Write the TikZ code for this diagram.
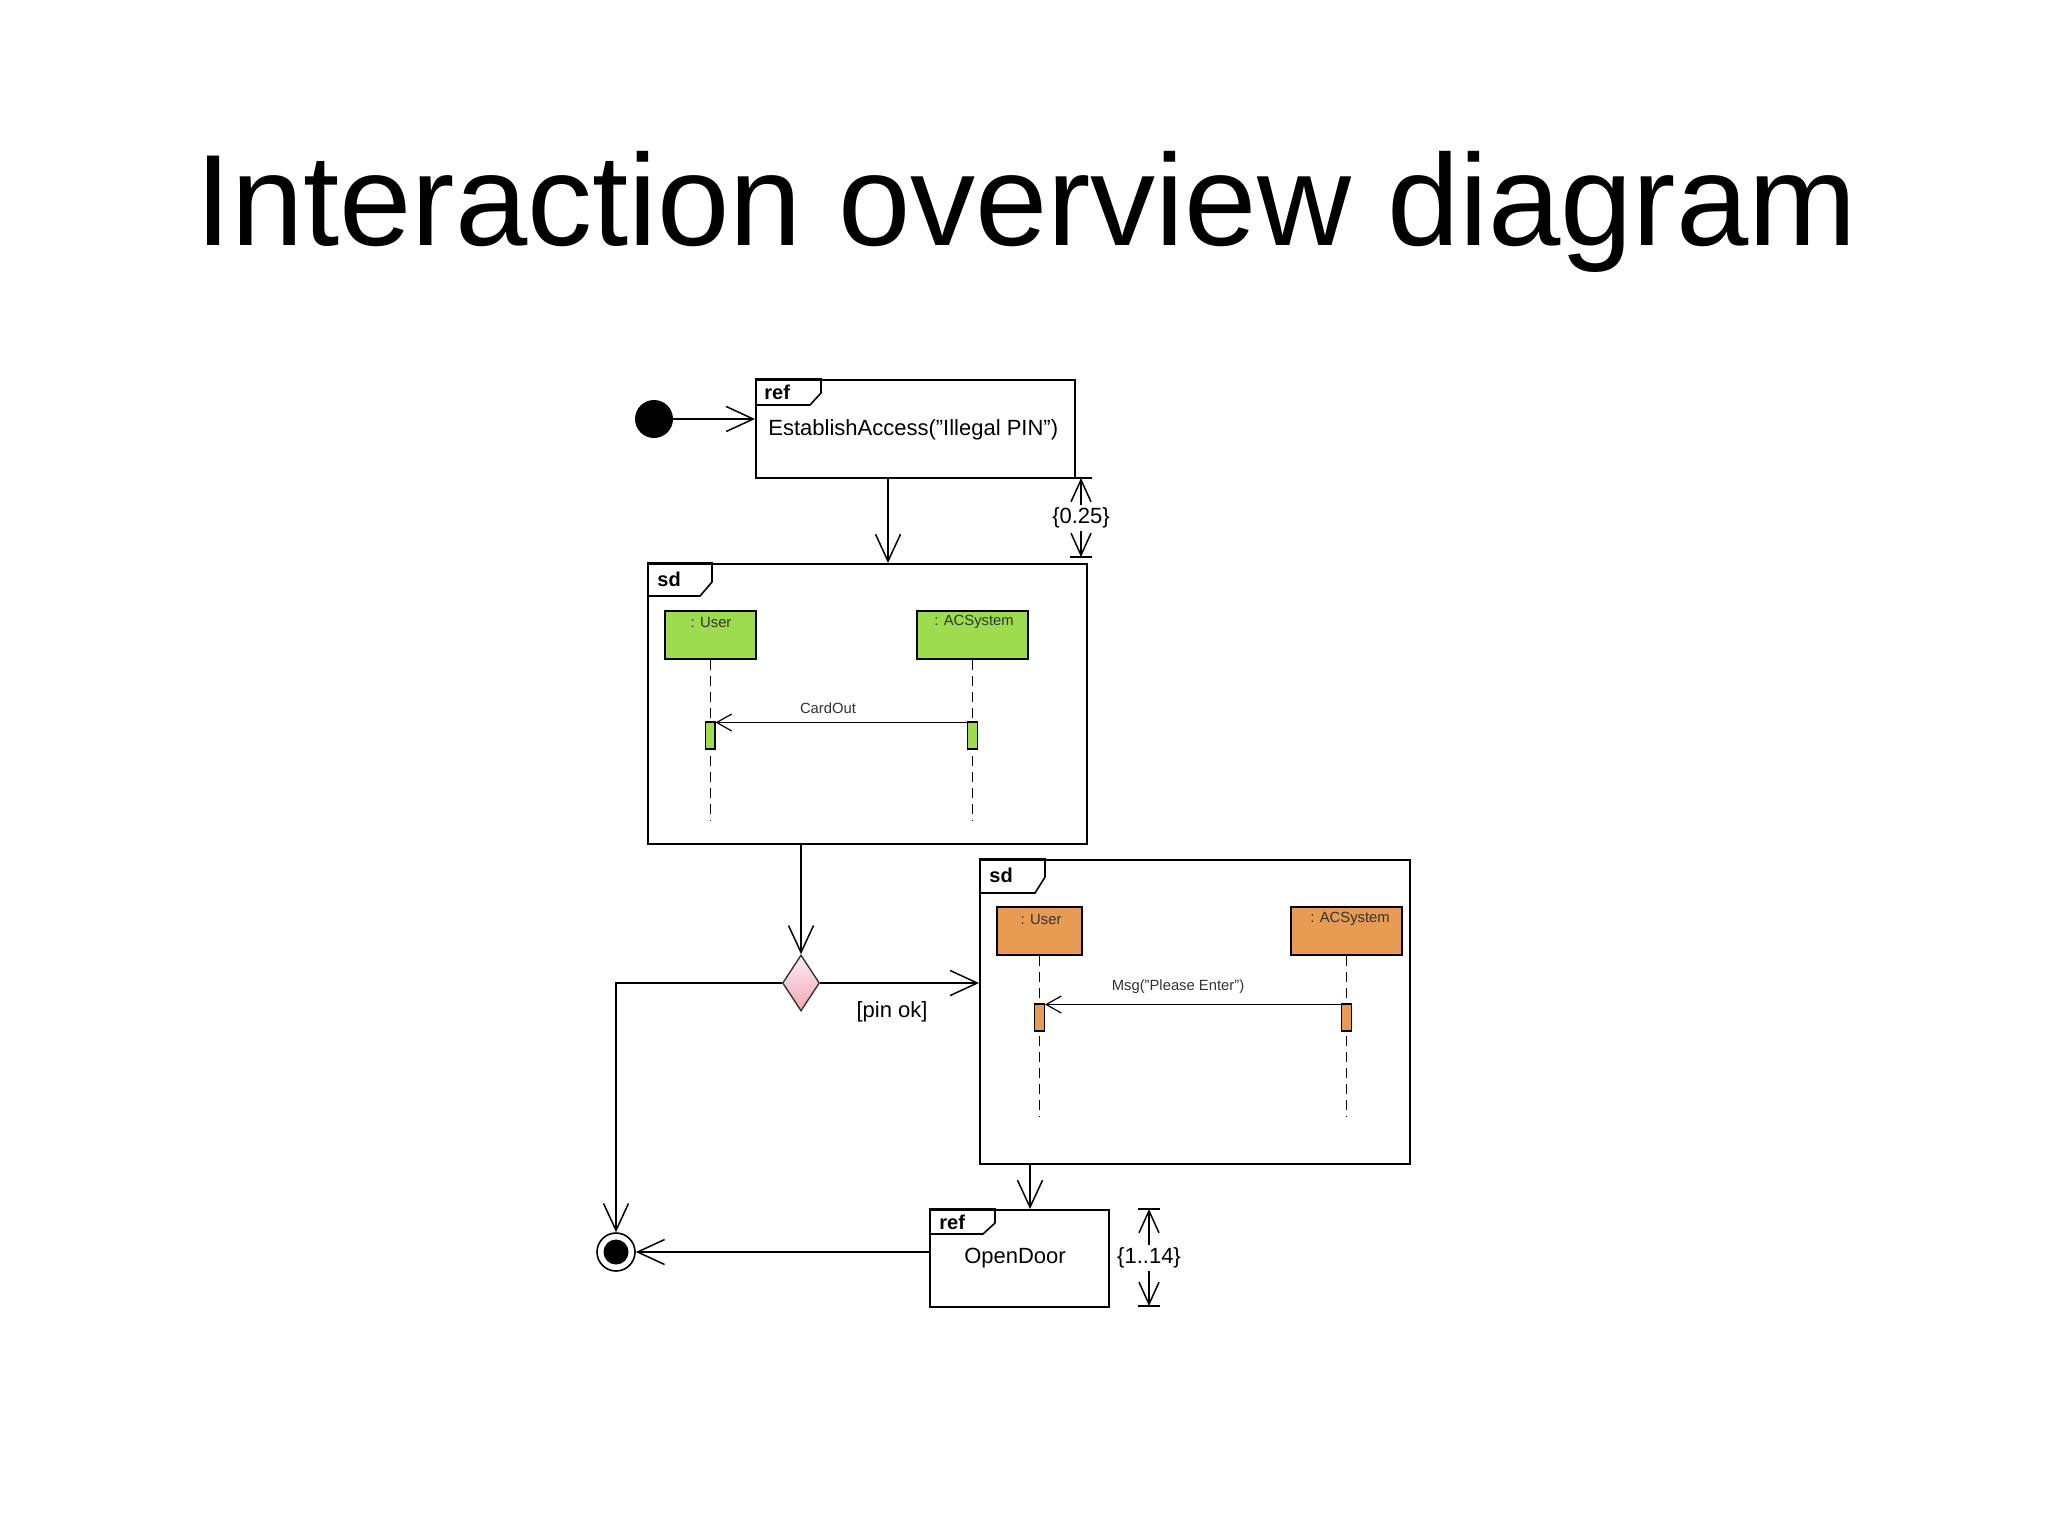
\documentclass[tikz,border=0pt]{standalone}
\usepackage{fontspec}
\setmainfont{Liberation Sans}
\usetikzlibrary{arrows.meta,shapes.geometric,calc}
\definecolor{lgreen}{HTML}{9CDC4E}
\definecolor{lorange}{HTML}{E89B52}
\definecolor{pinktop}{HTML}{FCEEF1}
\definecolor{pinkbot}{HTML}{F2A5B9}
\tikzset{
  frame/.style={draw=black, line width=0.9pt, inner sep=0pt, anchor=north west},
  tabline/.style={draw=black, line width=0.8pt},
  tablbl/.style={font=\bfseries\fontsize{10}{12}\selectfont, inner sep=0pt, anchor=west},
  lbl/.style={font=\fontsize{11}{13}\selectfont, inner sep=1pt},
  small/.style={font=\fontsize{7.4}{9}\selectfont, text=black!80, inner sep=0pt},
  life/.style={draw=black, line width=0.8pt, inner sep=0pt},
  act/.style={draw=black, line width=0.7pt, inner sep=0pt, minimum width=4.8pt, minimum height=13.5pt},
  lifeline/.style={line width=0.6pt, dash pattern=on 5pt off 3pt},
  conn/.style={line width=0.75pt},
  arr/.style={conn, -{Straight Barb[length=13.5pt,width=12.5pt,line width=0.75pt]}},
  marr/.style={line width=0.6pt, -{Straight Barb[length=7.5pt,width=8.5pt,line width=0.6pt]}},
  carr/.style={line width=0.75pt, -{Straight Barb[length=11pt,width=10pt,line width=0.75pt]}},
}
\begin{document}
\begin{tikzpicture}[x=0.5pt,y=-0.5pt]
\useasboundingbox[fill=white] (0,0) rectangle (2048,1536);

% title
\node[anchor=base, inner sep=0pt, font=\fontsize{65}{78}\selectfont] (title) at (1026,245) {Interaction overview diagram};

% initial node
\node[circle, fill=black, minimum size=19pt, inner sep=0pt] (init) at (654,419) {};

% ref EstablishAccess
\node[frame, minimum width=159.5pt, minimum height=49pt] (ref1) at (755,379) {};
\draw[tabline] (ref1.north west) -| (821,393) -- (810,405) -- (755,405);
\node[tablbl] (ref1lbl) at (764,392) {ref};
\node[lbl, anchor=west, inner sep=0pt] (ref1txt) at (768,430) {EstablishAccess("Illegal PIN")};

% constraint {0.25}
\coordinate (c1top) at (1081,478);
\coordinate (c1bot) at (1081,557);
\node[lbl] (c1txt) at (1081,518) {\{0.25\}};
\draw[conn] ([xshift=-5.5pt]c1top) -- ([xshift=5.5pt]c1top);
\draw[conn] ([xshift=-5.5pt]c1bot) -- ([xshift=5.5pt]c1bot);
\draw[carr] (c1txt.north) -- (c1top);
\draw[carr] (c1txt.south) -- (c1bot);

% sd 1 (green)
\node[frame, minimum width=219.5pt, minimum height=140pt] (sd1) at (647,563) {};
\draw[tabline] (sd1.north west) -| (712,582) -- (700,596) -- (647,596);
\node[tablbl] (sd1lbl) at (657,579) {sd};
\node[life, fill=lgreen, minimum width=45.5pt, minimum height=24pt] (u1) at (710.5,635) {};
\node[life, fill=lgreen, minimum width=55.5pt, minimum height=24pt] (s1) at (972.5,635) {};
\node[small] (u1lbl) at (711,622) {: User};
\node[small] (s1lbl) at (974,622) {: ACSystem};
\coordinate (u1end) at (710.5,820);
\coordinate (s1end) at (972.5,820);
\draw[lifeline] (u1.south) -- (u1end);
\draw[lifeline] (s1.south) -- (s1end);
\node[act, fill=lgreen] (u1a) at (710,735.5) {};
\node[act, fill=lgreen] (s1a) at (972.5,735.5) {};
\draw[marr] ([yshift=-0.6pt]s1a.north west) -- ([yshift=-0.6pt]u1a.north east);
\node[small] (m1lbl) at (828,708) {CardOut};

% decision
\node[diamond, draw=black!80, line width=0.7pt, inner sep=0pt, minimum width=18.5pt, minimum height=28pt, top color=pinktop, bottom color=pinkbot] (dia) at (801,983) {};
\draw[arr] (dia.north |- sd1.south) -- (dia.north);

% sd 2 (orange)
\node[frame, minimum width=215pt, minimum height=152pt] (sd2) at (979,859) {};
\draw[tabline] (sd2.north west) -| (1045,877) -- (1035,893) -- (979,893);
\node[tablbl] (sd2lbl) at (989,875) {sd};
\node[life, fill=lorange, minimum width=42.5pt, minimum height=24pt] (u2) at (1039.5,931) {};
\node[life, fill=lorange, minimum width=55.5pt, minimum height=24pt] (s2) at (1346.5,931) {};
\node[small] (u2lbl) at (1041,919) {: User};
\node[small] (s2lbl) at (1350,919) {: ACSystem};
\coordinate (u2end) at (1039.5,1117);
\coordinate (s2end) at (1346.5,1117);
\draw[lifeline] (u2.south) -- (u2end);
\draw[lifeline] (s2.south) -- (s2end);
\node[act, fill=lorange] (u2a) at (1039.5,1017.5) {};
\node[act, fill=lorange] (s2a) at (1346.5,1017.5) {};
\draw[marr] ([yshift=-0.6pt]s2a.north west) -- ([yshift=-0.6pt]u2a.north east);
\node[small] (m2lbl) at (1178,987) {Msg("Please Enter")};

\draw[arr] (dia.east) -- (dia.east -| sd2.west);
\node[lbl] (pinok) at (892,1012) {[pin ok]};

% ref OpenDoor
\node[frame, minimum width=89.5pt, minimum height=48.5pt] (ref2) at (929,1209) {};
\draw[tabline] (ref2.north west) -| (995,1223) -- (983,1234) -- (929,1234);
\node[tablbl] (ref2lbl) at (939,1222) {ref};
\node[lbl] (ref2txt) at (1015,1258) {OpenDoor};
\draw[arr] ([xshift=25.5pt]sd2.south west) -- ([xshift=25.5pt]sd2.south west |- ref2.north);

% constraint {1..14}
\coordinate (c2top) at (1149,1209);
\coordinate (c2bot) at (1149,1306);
\node[lbl] (c2txt) at (1149,1258) {\{1..14\}};
\draw[conn] ([xshift=-5.5pt]c2top) -- ([xshift=5.5pt]c2top);
\draw[conn] ([xshift=-5.5pt]c2bot) -- ([xshift=5.5pt]c2bot);
\draw[carr] (c2txt.north) -- (c2top);
\draw[carr] (c2txt.south) -- (c2bot);

% final node
\node[circle, draw=black, line width=0.8pt, fill=white, minimum size=19pt, inner sep=0pt] (fin) at (616,1252) {};
\node[circle, fill=black, minimum size=12.5pt, inner sep=0pt] (findot) at (fin) {};

% connectors
\draw[arr] (init.east) -- (init.east -| ref1.west);
\draw[arr] ([xshift=66.5pt]ref1.south west) -- ([xshift=66.5pt]ref1.south west |- sd1.north);
\draw[arr] (dia.west) -| (fin.north);
\draw[arr] (ref2.west |- fin.east) -- (fin.east);
\end{tikzpicture}
\end{document}
